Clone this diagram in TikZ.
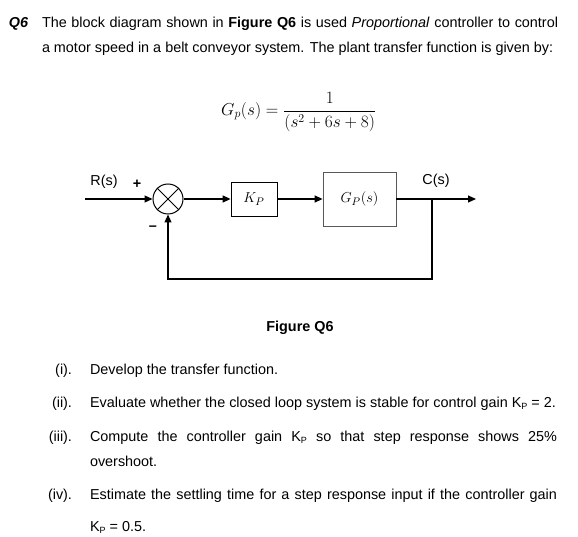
\documentclass[tikz,border=0pt]{standalone}
\usepackage{fontspec}
\setmainfont{Liberation Sans}
\usetikzlibrary{arrows.meta}
\newcommand{\KPsub}{K\raisebox{-0.35ex}{\fontsize{9}{9}\selectfont P}}
\begin{document}
\begin{tikzpicture}[x=1pt,y=-1pt,
  txt/.style={inner sep=0pt,outer sep=0pt,font=\fontsize{14.4}{17}\selectfont},
  blk/.style={draw,line width=0.8pt,minimum width=46pt,minimum height=34pt,inner sep=0pt},
  sumc/.style={draw,circle,line width=1pt,minimum size=30pt,inner sep=0pt},
  sig/.style={line width=1.2pt,-{Triangle[length=8pt,width=7pt]}},
  wire/.style={line width=1.2pt}]
\useasboundingbox (0,0) rectangle (578,537);
% header
\node[txt,anchor=base west] (q6) at (9,28) {\textbf{\textit{Q6}}};
\node[txt,anchor=base west] (l1) at (42,28) {\makebox[516pt][s]{The block diagram shown in \textbf{Figure Q6} is used \textit{Proportional} controller to control}};
\node[txt,anchor=base west] (l2) at (42,53) {a motor speed in a belt conveyor system. The plant transfer function is given by:};
% equation
\node[inner sep=0pt,anchor=west] (eq) at (221,112) {\fontsize{16.5}{19}\selectfont $\displaystyle G_p(s) = \frac{1}{(s^2+6s+8)}$};
% block diagram
\coordinate (in) at (85,199);
\node[sumc] (sum) at (168,199) {};
\draw[line width=1pt] (sum.north west) -- (sum.south east) (sum.north east) -- (sum.south west);
\node[blk] (kp) at (254,199) {\fontsize{15}{17}\selectfont $K_P$};
\node[blk,draw=black!65,minimum width=73pt,minimum height=54pt] (gp) at (359.5,199) {\fontsize{15.5}{17}\selectfont $G_P(s)$};
\coordinate (out) at (476,199);
\coordinate (br) at (432,199);
\coordinate (fb) at (432,279);
\draw[sig] (in) -- (sum.west);
\draw[sig] (sum.east) -- (kp.west);
\draw[sig] (kp.east) -- (gp.west);
\draw[sig] (gp.east) -- (out);
\draw[sig] (br) -- (fb) -| (sum.south);
\node[txt] (rs) at (104,182) {R(s)};
\node[txt] (plus) at (137,184) {\textbf{+}};
\node[txt] (minus) at (153,228) {\textbf{–}};
\node[txt] (cs) at (436,181) {C(s)};
\node[txt,anchor=base] (fig) at (300,331) {\textbf{Figure Q6}};
% questions
\node[txt,anchor=base east] (n1) at (72,374) {(i).};
\node[txt,anchor=base west] (t1) at (90,374) {Develop the transfer function.};
\node[txt,anchor=base east] (n2) at (72,407) {(ii).};
\node[txt,anchor=base west] (t2) at (90,407) {Evaluate whether the closed loop system is stable for control gain \KPsub{} = 2.};
\node[txt,anchor=base east] (n3) at (72,441) {(iii).};
\node[txt,anchor=base west] (t3) at (90,441) {\makebox[467pt][s]{Compute the controller gain \KPsub{} so that step response shows 25\%}};
\node[txt,anchor=base west] (t3b) at (90,466) {overshoot.};
\node[txt,anchor=base east] (n4) at (72,499) {(iv).};
\node[txt,anchor=base west] (t4) at (90,499) {\makebox[467pt][s]{Estimate the settling time for a step response input if the controller gain}};
\node[txt,anchor=base west] (t4b) at (90,531) {\KPsub{} = 0.5.};
\end{tikzpicture}
\end{document}
